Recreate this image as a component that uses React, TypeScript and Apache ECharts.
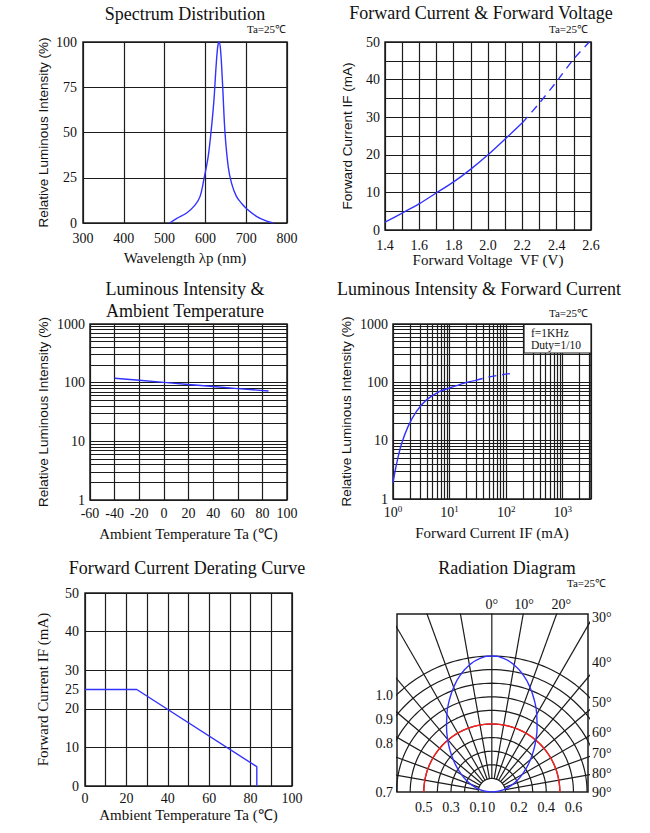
import React, { useEffect, useRef } from 'react';
import * as echarts from 'echarts';

// ---------- data ----------
const SPECTRUM_WAVELENGTH = [512, 530, 554, 575, 587, 597, 607, 615, 621, 626, 630, 633, 637, 642, 648, 656, 664, 676, 690, 701, 725, 750, 766];
const SPECTRUM_INTENSITY = [0, 2.5, 5.5, 10, 14.7, 25, 37, 53, 68, 86, 97, 100, 96, 77, 50, 31, 22, 14.7, 10.5, 7.9, 3.7, 1, 0];

const VF_SOLID = [1.4, 1.5, 1.6, 1.7, 1.8, 1.9, 2.0, 2.1, 2.2];
const IF_SOLID = [2.1, 4.5, 7.0, 9.9, 12.8, 16.2, 20, 24.2, 28.5];
const VF_DASHED = [2.2, 2.3, 2.4, 2.5, 2.59];
const IF_DASHED = [28.5, 33.8, 39.5, 45.5, 50];

const TA_TEMP = [-40, -20, 0, 20, 40, 60, 85];
const TA_INTENSITY = [119, 110, 101, 93, 86, 79, 72];

const IFC_SOLID = [1, 1.15, 1.4, 1.85, 2.6, 3.9, 6.7, 10, 20, 28];
const IV_SOLID = [1.9, 3.9, 8.5, 17.6, 31.8, 50, 70, 80, 100, 107];
const IFC_DASHED = [28, 50, 80, 117];
const IV_DASHED = [107, 124, 134, 141];

const DERATE_TEMP = [0, 25, 83, 83];
const DERATE_IF = [25, 25, 5, 0];

const RAD_ANGLE = [-90, -85, -80, -75, -70, -65, -60, -55, -50, -45, -40, -35, -30, -25, -20, -15, -10, -5, 0, 5, 10, 15, 20, 25, 30, 35, 40, 45, 50, 55, 60, 65, 70, 75, 80, 85, 90];
const RAD_INTENSITY = [0, 0.039, 0.079, 0.12, 0.163, 0.209, 0.258, 0.312, 0.371, 0.435, 0.505, 0.58, 0.66, 0.741, 0.82, 0.891, 0.949, 0.987, 1.0, 0.987, 0.949, 0.891, 0.82, 0.741, 0.66, 0.58, 0.505, 0.435, 0.371, 0.312, 0.258, 0.209, 0.163, 0.12, 0.079, 0.039, 0];
const RAD_HALF = 0.5;

// ---------- tick lists ----------
const LOG_MINOR_Y = [2, 3, 4, 5, 6, 7, 8, 9, 20, 30, 40, 50, 60, 70, 80, 90, 200, 300, 400, 500, 600, 700, 800, 900];
const LOG_MINOR_X = [2, 3, 4, 5, 6, 7, 8, 9, 20, 30, 40, 50, 60, 70, 80, 90, 200, 300, 400, 500, 600, 700, 800, 900, 2000, 3000];
const DERATE_Y_LABELS = [0, 10, 20, 25, 30, 40, 50];
const RAD_RINGS = [0.1, 0.2, 0.3, 0.4, 0.5, 0.6, 0.7, 0.8, 0.9, 1.0];
const RAD_SPOKES = [-80, -70, -60, -50, -40, -30, -20, -10, 0, 10, 20, 30, 40, 50, 60, 70, 80];
const RAD_BOTTOM_TICKS = [-0.5, -0.3, -0.1, 0, 0.2, 0.4, 0.6];
const RAD_BOTTOM_LABELS = ['0.5', '0.3', '0.1', '0', '0.2', '0.4', '0.6'];
const RAD_TOP_TICKS = [0, 0.2375, 0.51];
const RAD_TOP_LABELS = ['0°', '10°', '20°'];
const RAD_RIGHT_TICKS = [1.28, 0.95, 0.657, 0.44, 0.28, 0.135, 0];
const RAD_RIGHT_LABELS = ['30°', '40°', '50°', '60°', '70°', '80°', '90°'];
const RAD_LEFT_TICKS = [0.71, 0.53, 0.353, 0];
const RAD_LEFT_LABELS = ['1.0', '0.9', '0.8', '0.7'];

// ---------- styles ----------
const SERIF = '"Liberation Serif", "Times New Roman", serif';
const SANS = '"Liberation Sans", Arial, sans-serif';
const INK = '#111';
const LINE_COLOR = '#1c1c1c';
const GRID_LINE = { color: LINE_COLOR, width: 1.2, type: 'solid' as const };
const BLUE = '#3232ff';
const TITLE_SIZE = 18;

function gridBox(left: number, top: number, width: number, height: number) {
  return {
    left, top, width, height,
    show: true, borderColor: LINE_COLOR, borderWidth: 1.5, backgroundColor: 'transparent',
    containLabel: false, outerBoundsMode: 'none',
  };
}

function axis(o: any) {
  const { axisLabel, nameTextStyle, ...rest } = o;
  return {
    axisLine: { show: false },
    axisTick: { show: false },
    splitLine: { show: true, lineStyle: GRID_LINE },
    nameLocation: 'middle',
    nameTextStyle: { color: INK, fontFamily: SERIF, fontSize: 15, ...(nameTextStyle || {}) },
    axisLabel: { color: INK, fontFamily: SERIF, fontSize: 14, showMinLabel: true, showMaxLabel: true, ...(axisLabel || {}) },
    ...rest,
  };
}

const lookup = (ticks: number[], labels: string[]) => (v: number) => {
  const i = ticks.findIndex((t) => Math.abs(t - v) < 1e-6);
  return i >= 0 ? labels[i] : '';
};

const logLabel = (v: number) => String(Math.round(v));
const powLabel = (v: number) => {
  const e = Math.log10(v);
  if (Math.abs(e - Math.round(e)) > 1e-6) return '';
  return `{b|10}{s|${Math.round(e)}}`;
};

const minorMarkLine = (entries: any[]) => ({
  silent: true,
  symbol: ['none', 'none'],
  label: { show: false },
  emphasis: { disabled: true },
  lineStyle: { color: LINE_COLOR, width: 1.2, type: 'solid' },
  animation: false,
  data: entries,
});

const rad = (d: number) => (d * Math.PI) / 180;
const ARC_SAMPLE = Array.from({ length: 91 }, (_, i) => -90 + i * 2);

function buildOption() {
  const pair = (xs: number[], ys: number[]) => xs.map((x, i) => [x, ys[i]]);
  const curve = (xi: number, data: any[], extra: any = {}) => {
    const { lineStyle, ...rest } = extra;
    return {
      type: 'line', xAxisIndex: xi, yAxisIndex: xi, data, symbol: 'none', showSymbol: false,
      silent: true, z: 5, ...rest,
      lineStyle: { color: BLUE, width: 1.4, ...(lineStyle || {}) },
      itemStyle: { color: BLUE },
    };
  };

  const spokes = RAD_SPOKES.map((a) => ({
    type: 'line', xAxisIndex: 5, yAxisIndex: 5, symbol: 'none', silent: true, clip: true, z: 2,
    lineStyle: GRID_LINE,
    data: [[0.1 * Math.sin(rad(a)), 0.1 * Math.cos(rad(a))], [3 * Math.sin(rad(a)), 3 * Math.cos(rad(a))]],
  }));
  const rings = RAD_RINGS.map((r) => ({
    type: 'line', xAxisIndex: 5, yAxisIndex: 5, symbol: 'none', silent: true, clip: true, z: 2,
    lineStyle: GRID_LINE,
    data: ARC_SAMPLE.map((a) => [r * Math.sin(rad(a)), r * Math.cos(rad(a))]),
  }));
  const halfRing = {
    type: 'line', xAxisIndex: 5, yAxisIndex: 5, symbol: 'none', silent: true, clip: true, z: 4,
    lineStyle: { color: '#ff2020', width: 1.4 },
    data: ARC_SAMPLE.map((a) => [RAD_HALF * Math.sin(rad(a)), RAD_HALF * Math.cos(rad(a))]),
  };
  const pattern = {
    type: 'line', xAxisIndex: 5, yAxisIndex: 5, symbol: 'none', silent: true, clip: true, z: 5, smooth: 0.5,
    lineStyle: { color: BLUE, width: 1.4 },
    data: RAD_ANGLE.map((a, i) => [RAD_INTENSITY[i] * Math.sin(rad(a)), RAD_INTENSITY[i] * Math.cos(rad(a))]),
  };

  const text = (t: string, x: number, y: number, size: number, align = 'center') => ({
    type: 'text', x, y, z: 120, silent: true,
    style: {
      text: t, fill: INK, fontFamily: SERIF, fontSize: size,
      align, textAlign: align, verticalAlign: 'middle', textVerticalAlign: 'middle',
    },
  });

  const supRich = {
    b: { fontFamily: SERIF, fontSize: 14, color: INK, lineHeight: 16 },
    s: { fontFamily: SERIF, fontSize: 9, color: INK, lineHeight: 9, verticalAlign: 'top' },
  };

  return {
    animation: false,
    backgroundColor: '#fff',
    grid: [
      gridBox(83, 42, 204, 181),
      gridBox(385, 42, 206, 188),
      gridBox(90, 324, 197, 176),
      gridBox(393, 324, 198, 175),
      gridBox(85, 593, 207, 193),
      gridBox(397, 614, 191, 178),
    ],
    xAxis: [
      axis({ gridIndex: 0, type: 'value', min: 300, max: 800, interval: 100, name: 'Wavelength λp (nm)', nameGap: 27, axisLabel: { margin: 8 } }),
      axis({
        gridIndex: 1, type: 'value', min: 1.4, max: 2.6, interval: 0.2, name: 'Forward Voltage  VF (V)', nameGap: 21,
        axisLabel: { margin: 8, formatter: (v: number) => v.toFixed(1) },
        minorTick: { show: false, splitNumber: 2 }, minorSplitLine: { show: true, lineStyle: GRID_LINE },
      }),
      axis({ gridIndex: 2, type: 'value', min: -60, max: 100, interval: 20, name: 'Ambient Temperature Ta (℃)', nameGap: 26, axisLabel: { margin: 6 } }),
      axis({
        gridIndex: 3, type: 'log', logBase: 10, min: 1, max: 3162, name: 'Forward Current IF (mA)', nameGap: 26,
        axisLabel: { margin: 5, formatter: powLabel, rich: supRich },
      }),
      axis({
        gridIndex: 4, type: 'value', min: 0, max: 100, interval: 20, name: 'Ambient Temperature Ta (℃)', nameGap: 21,
        axisLabel: { margin: 5 },
        minorTick: { show: false, splitNumber: 2 }, minorSplitLine: { show: true, lineStyle: GRID_LINE },
      }),
      axis({
        gridIndex: 5, type: 'value', min: -0.697, max: 0.707, splitLine: { show: false },
        axisLabel: { margin: 8, customValues: RAD_BOTTOM_TICKS, formatter: lookup(RAD_BOTTOM_TICKS, RAD_BOTTOM_LABELS) },
      }),
      axis({
        gridIndex: 5, type: 'value', position: 'top', min: -0.697, max: 0.707, splitLine: { show: false },
        axisLabel: { margin: 3, customValues: RAD_TOP_TICKS, formatter: lookup(RAD_TOP_TICKS, RAD_TOP_LABELS) },
      }),
    ],
    yAxis: [
      axis({
        gridIndex: 0, type: 'value', min: 0, max: 100, interval: 25, name: 'Relative Luminous Intensity (%)', nameGap: 33,
        nameTextStyle: { fontFamily: SANS, fontSize: 13.5 }, axisLabel: { margin: 6 },
      }),
      axis({
        gridIndex: 1, type: 'value', min: 0, max: 50, interval: 10, name: 'Forward Current IF (mA)', nameGap: 31,
        nameTextStyle: { fontFamily: SANS, fontSize: 13.5 }, axisLabel: { margin: 5 },
        minorTick: { show: false, splitNumber: 2 }, minorSplitLine: { show: true, lineStyle: GRID_LINE },
      }),
      axis({
        gridIndex: 2, type: 'log', logBase: 10, min: 1, max: 1000, name: 'Relative Luminous Intensity (%)', nameGap: 40,
        nameTextStyle: { fontFamily: SANS, fontSize: 13.5 }, axisLabel: { margin: 5, formatter: logLabel },
      }),
      axis({
        gridIndex: 3, type: 'log', logBase: 10, min: 1, max: 1000, name: 'Relative Luminous Intensity (%)', nameGap: 40,
        nameTextStyle: { fontFamily: SANS, fontSize: 13.5 }, axisLabel: { margin: 5, formatter: logLabel },
      }),
      axis({
        gridIndex: 4, type: 'value', min: 0, max: 50, interval: 10, name: 'Forward Current IF (mA)', nameGap: 35,
        axisLabel: { margin: 6, customValues: DERATE_Y_LABELS },
      }),
      axis({
        gridIndex: 5, type: 'value', min: 0, max: 1.309, splitLine: { show: false },
        axisLabel: { margin: 4, customValues: RAD_LEFT_TICKS, formatter: lookup(RAD_LEFT_TICKS, RAD_LEFT_LABELS) },
      }),
      axis({
        gridIndex: 5, type: 'value', position: 'right', min: 0, max: 1.309, splitLine: { show: false },
        axisLabel: { margin: 4, customValues: RAD_RIGHT_TICKS, formatter: lookup(RAD_RIGHT_TICKS, RAD_RIGHT_LABELS) },
      }),
    ],
    series: [
      curve(0, pair(SPECTRUM_WAVELENGTH, SPECTRUM_INTENSITY), { smooth: 0.35 }),
      curve(1, pair(VF_SOLID, IF_SOLID), { smooth: 0.3 }),
      curve(1, pair(VF_DASHED, IF_DASHED), { smooth: 0.3, lineStyle: { type: [8, 6] } }),
      {
        ...curve(2, pair(TA_TEMP, TA_INTENSITY)),
        markLine: minorMarkLine(LOG_MINOR_Y.map((v) => ({ yAxis: v }))),
      },
      {
        ...curve(3, pair(IFC_SOLID, IV_SOLID), { smooth: 0.35 }),
        markLine: minorMarkLine([
          ...LOG_MINOR_X.map((v) => ({ xAxis: v })),
          ...LOG_MINOR_Y.map((v) => ({ yAxis: v })),
        ]),
      },
      curve(3, pair(IFC_DASHED, IV_DASHED), { smooth: 0.3, lineStyle: { type: [8, 6] } }),
      curve(4, pair(DERATE_TEMP, DERATE_IF)),
      ...spokes,
      ...rings,
      halfRing,
      pattern,
    ],
    graphic: [
      text('Spectrum Distribution', 185, 14, TITLE_SIZE),
      text('Forward Current & Forward Voltage', 481, 13, TITLE_SIZE),
      text('Luminous Intensity &', 185, 289, TITLE_SIZE),
      text('Ambient Temperature', 185, 311, TITLE_SIZE),
      text('Luminous Intensity & Forward Current', 479, 289, TITLE_SIZE),
      text('Forward Current Derating Curve', 187, 568, TITLE_SIZE),
      text('Radiation Diagram', 507, 568, TITLE_SIZE),
      text('Ta=25℃', 286, 29, 11, 'right'),
      text('Ta=25℃', 588, 29, 11, 'right'),
      text('Ta=25℃', 588, 313, 11, 'right'),
      text('Ta=25℃', 606, 583, 11, 'right'),
      {
        type: 'rect', z: 110, silent: true,
        shape: { x: 524, y: 324.5, width: 67, height: 28.5 },
        style: { fill: '#fff', stroke: LINE_COLOR, lineWidth: 1.2 },
      },
      text('f=1KHz', 531, 332.5, 11.5, 'left'),
      text('Duty=1/10', 531, 345, 11.5, 'left'),
    ],
  };
}

export default function App() {
  const ref = useRef<HTMLDivElement>(null);
  useEffect(() => {
    if (!ref.current) return;
    const chart = echarts.init(ref.current, null, { renderer: 'svg' });
    chart.setOption(buildOption() as any);
    return () => chart.dispose();
  }, []);
  return (
    <div
      ref={ref}
      style={{ position: 'absolute', left: 0, top: 0, width: 650, height: 833, background: '#fff' }}
    />
  );
}
